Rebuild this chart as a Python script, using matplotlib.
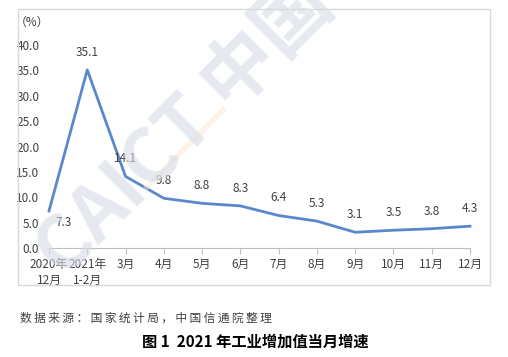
import matplotlib.pyplot as plt
from matplotlib.patches import Rectangle
from matplotlib.lines import Line2D

plt.rcParams['font.family'] = ['Noto Sans CJK SC', 'DejaVu Sans']

# data
months = ['2020年\n12月', '2021年\n1-2月', '3月', '4月', '5月', '6月',
          '7月', '8月', '9月', '10月', '11月', '12月']
growth = [7.3, 35.1, 14.1, 9.8, 8.8, 8.3, 6.4, 5.3, 3.1, 3.5, 3.8, 4.3]
y_ticks = [0, 5, 10, 15, 20, 25, 30, 35, 40]

W, H = 508, 357
fig = plt.figure(figsize=(W / 100, H / 100), dpi=100)

# outer frame of the chart area
fig.patches.append(Rectangle((18 / W, 1 - 285 / H), 472 / W, 276 / H,
                             transform=fig.transFigure, fill=False,
                             edgecolor='#d9d9d9', linewidth=1))

# faint watermark (partly runs off the top, as in the original)
fig.text(185 / W, 1 - 128 / H, 'CAICT 中国', fontsize=54, fontweight='bold',
         color='#d6dce6', alpha=0.6, rotation=45, ha='center', va='center',
         zorder=0)
fig.lines.append(Line2D([147 / W, 223 / W], [1 - 187 / H, 1 - 110 / H],
                        transform=fig.transFigure, color='#fbe6cc',
                        linewidth=4, alpha=0.45, zorder=0))

ax = fig.add_axes([49 / W, 1 - 248 / H, 421 / W, 203 / H])
ax.patch.set_alpha(0)
x = list(range(len(months)))
ax.plot(x, growth, color='#5b87cc', linewidth=2.0, clip_on=False, zorder=3)

for i, v in enumerate(growth):
    if i == 0:
        ax.annotate(f'{v:.1f}', (i, v), xytext=(5, -8), textcoords='offset points',
                    ha='left', va='center', fontsize=8.5, color='#404040')
    else:
        ax.annotate(f'{v:.1f}', (i, v), xytext=(0, 8), textcoords='offset points',
                    ha='center', va='bottom', fontsize=8.5, color='#404040')

ax.set_xlim(0, len(months) - 1)
ax.set_ylim(0, 40)
ax.set_yticks(y_ticks)
ax.set_yticklabels([f'{t:.1f}' for t in y_ticks], fontsize=8.5, color='#404040')
ax.set_xticks(x)
ax.set_xticklabels(months, fontsize=8.5, color='#404040', linespacing=1.3)
ax.tick_params(axis='y', length=0, pad=7)
ax.tick_params(axis='x', length=4, color='#bfbfbf', direction='out', pad=3)
for s in ['top', 'right', 'left']:
    ax.spines[s].set_visible(False)
ax.spines['bottom'].set_color('#bfbfbf')

fig.text(32 / W, 1 - 22 / H, '（%）', fontsize=8.5, color='#404040',
         ha='center', va='center')

source = '\u2009'.join('数据来源：国家统计局，中国信通院整理')
fig.text(20 / W, 1 - 318 / H, source, fontsize=8.5,
         color='#404040', ha='left', va='center')
fig.text(255 / W, 1 - 342 / H, '图 1  2021 年工业增加值当月增速', fontsize=11,
         fontweight='bold', color='#000000', ha='center', va='center')

fig.savefig('out.png', dpi=100)
